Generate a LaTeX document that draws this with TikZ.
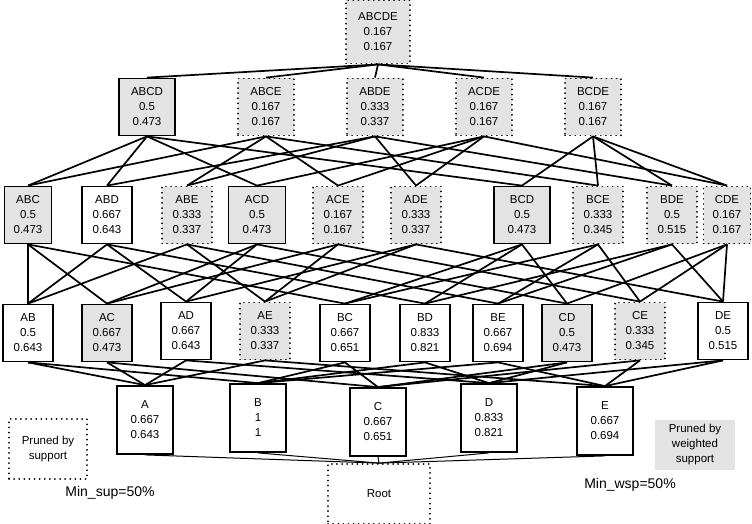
\documentclass[tikz,border=0pt]{standalone}
\usepackage{fontspec}
\setmainfont{Liberation Sans}
\usetikzlibrary{positioning}

\begin{document}
\begin{tikzpicture}[
            x=1pt, y=-1pt,
            font=\fontsize{11.5}{15}\selectfont,
            % frequent itemset
            item/.style={
                draw=black,
                line width=1.8pt,
                minimum width=50pt,
                minimum height=57pt,
                inner sep=1pt,
                align=center,
                fill=white
            },
            % pruned by weighted support
            wpruned/.style={item, fill=gray!22},
            % pruned by support
            spruned/.style={item, fill=gray!22, line width=1.8pt, dash pattern=on 0.1pt off 5pt, line cap=round},
            edge/.style={line width=1.7pt}
        ]
            \useasboundingbox (0,0) rectangle (752,524);

            % --- level 5 ---
            \node[spruned, minimum width=64pt, minimum height=63pt] (ABCDE) at (378,32) {ABCDE\\0.167\\0.167};

            % --- level 4 ---
            \node[wpruned, minimum width=56pt] (ABCD) at (147,107) {ABCD\\0.5\\0.473};
            \node[spruned, minimum width=56pt] (ABCE) at (266,107) {ABCE\\0.167\\0.167};
            \node[spruned, minimum width=56pt] (ABDE) at (375,107) {ABDE\\0.333\\0.337};
            \node[spruned, minimum width=56pt] (ACDE) at (484,107) {ACDE\\0.167\\0.167};
            \node[spruned, minimum width=56pt] (BCDE) at (593,107) {BCDE\\0.167\\0.167};

            % --- level 3 ---
            \node[wpruned, minimum width=47pt] (ABC) at (28,215) {ABC\\0.5\\0.473};
            \node[item]    (ABD) at (107,215) {ABD\\0.667\\0.643};
            \node[spruned] (ABE) at (187,215) {ABE\\0.333\\0.337};
            \node[wpruned, minimum width=57pt] (ACD) at (257,215) {ACD\\0.5\\0.473};
            \node[spruned] (ACE) at (338,215) {ACE\\0.167\\0.167};
            \node[spruned] (ADE) at (416,215) {ADE\\0.333\\0.337};
            \node[wpruned, minimum width=56pt] (BCD) at (522,215) {BCD\\0.5\\0.473};
            \node[spruned] (BCE) at (598,215) {BCE\\0.333\\0.345};
            \node[spruned] (BDE) at (672,215) {BDE\\0.5\\0.515};
            \node[spruned, minimum width=47pt] (CDE) at (727,215) {CDE\\0.167\\0.167};

            % --- level 2 ---
            \node[item]    (AB) at (28,333) {AB\\0.5\\0.643};
            \node[wpruned] (AC) at (107,333) {AC\\0.667\\0.473};
            \node[item]    (AD) at (186,331) {AD\\0.667\\0.643};
            \node[spruned] (AE) at (265,331) {AE\\0.333\\0.337};
            \node[item]    (BC) at (345,333) {BC\\0.667\\0.651};
            \node[item]    (BD) at (425,333) {BD\\0.833\\0.821};
            \node[item]    (BE) at (498,333) {BE\\0.667\\0.694};
            \node[wpruned] (CD) at (567,333) {CD\\0.5\\0.473};
            \node[spruned] (CE) at (640,331) {CE\\0.333\\0.345};
            \node[item]    (DE) at (723,331) {DE\\0.5\\0.515};

            % --- level 1 ---
            \node[item, minimum width=56pt, minimum height=68pt] (A) at (145,420) {A\\0.667\\0.643};
            \node[item, minimum width=56pt, minimum height=68pt] (B) at (258,418) {B\\1\\1};
            \node[item, minimum width=56pt, minimum height=68pt] (C) at (378,422) {C\\0.667\\0.651};
            \node[item, minimum width=56pt, minimum height=68pt] (D) at (489,418) {D\\0.833\\0.821};
            \node[item, minimum width=56pt, minimum height=68pt] (E) at (605,421) {E\\0.667\\0.694};

            % --- root ---
            \node[spruned, fill=white, minimum width=102pt, minimum height=60pt] (root) at (379,494) {Root};

            % --- lattice edges ---
            \foreach \p/\cs in {ABCDE/{ABCD,ABCE,ABDE,ACDE,BCDE},
                    ABCD/{ABC,ABD,ACD,BCD}, ABCE/{ABC,ABE,ACE,BCE},
                    ABDE/{ABD,ABE,ADE,BDE}, ACDE/{ACD,ACE,ADE,CDE},
                    BCDE/{BCD,BCE,BDE,CDE},
                    ABC/{AB,AC,BC}, ABD/{AB,AD,BD}, ABE/{AB,AE,BE},
                    ACD/{AC,AD,CD}, ACE/{AC,AE,CE}, ADE/{AD,AE,DE},
                    BCD/{BC,BD,CD}, BCE/{BC,BE,CE}, BDE/{BD,BE,DE},
                    CDE/{CD,CE,DE},
                    AB/{A,B}, AC/{A,C}, AD/{A,D}, AE/{A,E}, BC/{B,C},
                    BD/{B,D}, BE/{B,E}, CD/{C,D}, CE/{C,E}, DE/{D,E}}
                \foreach \c in \cs
                    \draw[edge] (\p.south) -- (\c.north);
            \foreach \c in {A,B,C,D,E}
                \draw[line width=1pt] (\c.south) -- (root.north);

            % --- legend ---
            \node[spruned, fill=white, minimum width=78pt, minimum height=60pt] (legsup) at (48,449) {Pruned by\\support};
            \node[fill=gray!22, minimum width=80pt, minimum height=50pt, align=center] (legwsp) at (695,445) {Pruned by\\weighted\\support};
            \node[font=\fontsize{14}{16}\selectfont] (minsup) at (110,493) {Min\_sup=50\%};
            \node[font=\fontsize{14}{16}\selectfont] (minwsp) at (630,485) {Min\_wsp=50\%};
        \end{tikzpicture}
\end{document}
